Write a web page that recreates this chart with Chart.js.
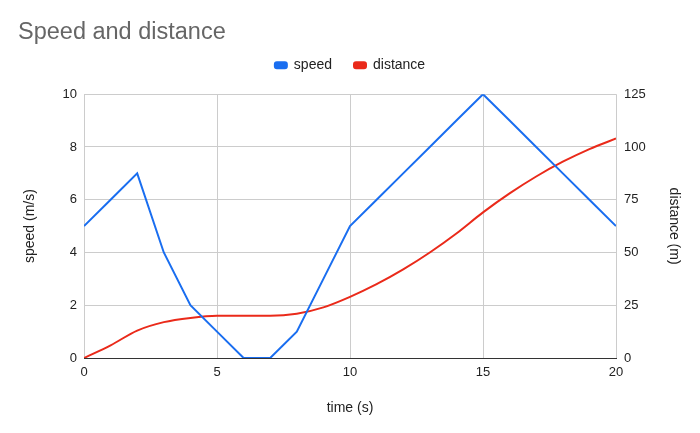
<!DOCTYPE html>
<html>
<head>
<meta charset="utf-8">
<script src="https://cdn.jsdelivr.net/npm/chart.js@4"></script>
<style>
  html, body { margin: 0; padding: 0; background: #fff; }
  #wrap { width: 700px; height: 433px; }
</style>
</head>
<body>
<div id="wrap"><canvas id="chart"></canvas></div>
<script>
// data
const time = [0, 1, 2, 3, 4, 5, 6, 7, 8, 9, 10, 11, 12, 13, 14, 15, 16, 17, 18, 19, 20];
const speed = [5, 6, 7, 4, 2, 1, 0, 0, 1, 3, 5, 6, 7, 8, 9, 10, 9, 8, 7, 6, 5];
const distance = [0, 6, 13, 17, 19, 20, 20, 20, 21, 24, 29, 35, 42, 50, 59, 69, 78, 86, 93, 99, 104];
const xTicks = [0, 5, 10, 15, 20];

Chart.defaults.font.family = '"Liberation Sans", Arial, sans-serif';
Chart.defaults.color = '#222';

// extra room under the legend so the plot starts lower
const legendGap = {
    id: 'legendGap',
    beforeInit(chart) {
        const fit = chart.legend.fit;
        chart.legend.fit = function () {
            fit.call(this);
            this.height += 12;
        };
    }
};

const ctx = document.getElementById('chart').getContext('2d');
new Chart(ctx, {
    type: 'line',
    data: {
        datasets: [{
            label: 'speed',
            data: time.map((t, i) => ({ x: t, y: speed[i] })),
            borderColor: '#1a6ef0',
            backgroundColor: '#1a6ef0',
            borderWidth: 2,
            pointRadius: 0,
            tension: 0,
            yAxisID: 'y'
        }, {
            label: 'distance',
            data: time.map((t, i) => ({ x: t, y: distance[i] })),
            borderColor: '#ea2a1a',
            backgroundColor: '#ea2a1a',
            borderWidth: 2,
            pointRadius: 0,
            cubicInterpolationMode: 'monotone',
            yAxisID: 'y1'
        }]
    },
    plugins: [legendGap],
    options: {
        responsive: true,
        maintainAspectRatio: false,
        animation: false,
        layout: { padding: { left: 18, right: 18, top: 0, bottom: 0 } },
        plugins: {
            title: {
                display: true,
                text: 'Speed and distance',
                align: 'start',
                color: '#666',
                font: { size: 23.5, weight: 'normal' },
                padding: { top: 18, bottom: -10 }
            },
            legend: {
                position: 'top',
                labels: {
                    boxWidth: 12,
                    boxHeight: 6,
                    useBorderRadius: true,
                    borderRadius: 2,
                    color: '#222',
                    font: { size: 14 },
                    padding: 22
                }
            },
            tooltip: { enabled: false }
        },
        scales: {
            x: {
                type: 'linear',
                min: 0,
                max: 20,
                afterBuildTicks: s => { s.ticks = xTicks.map(v => ({ value: v })); },
                afterFit: s => { s.height = 75; },
                ticks: { font: { size: 13 }, color: '#222', padding: 7 },
                grid: { color: '#cccccc', drawTicks: false },
                border: { display: true, color: '#333', width: 1 },
                title: { display: true, text: 'time (s)', font: { size: 14 }, color: '#222', padding: { bottom: 16 } }
            },
            y: {
                position: 'left',
                min: 0,
                max: 10,
                afterFit: s => { s.width = 66; },
                ticks: { stepSize: 2, font: { size: 13 }, color: '#222', padding: 7 },
                grid: {
                    drawTicks: false,
                    color: c => c.tick && c.tick.value === 0 ? '#333' : '#cccccc'
                },
                border: { display: false },
                title: { display: true, text: 'speed (m/s)', font: { size: 14 }, color: '#222', padding: { top: 4 } }
            },
            y1: {
                position: 'right',
                min: 0,
                max: 125,
                afterFit: s => { s.width = 66; },
                ticks: { stepSize: 25, font: { size: 13 }, color: '#222', padding: 8 },
                grid: { display: false, drawTicks: false },
                border: { display: false },
                title: { display: true, text: 'distance (m)', font: { size: 14 }, color: '#222', padding: { top: 0 } }
            }
        }
    }
});
</script>
</body>
</html>
